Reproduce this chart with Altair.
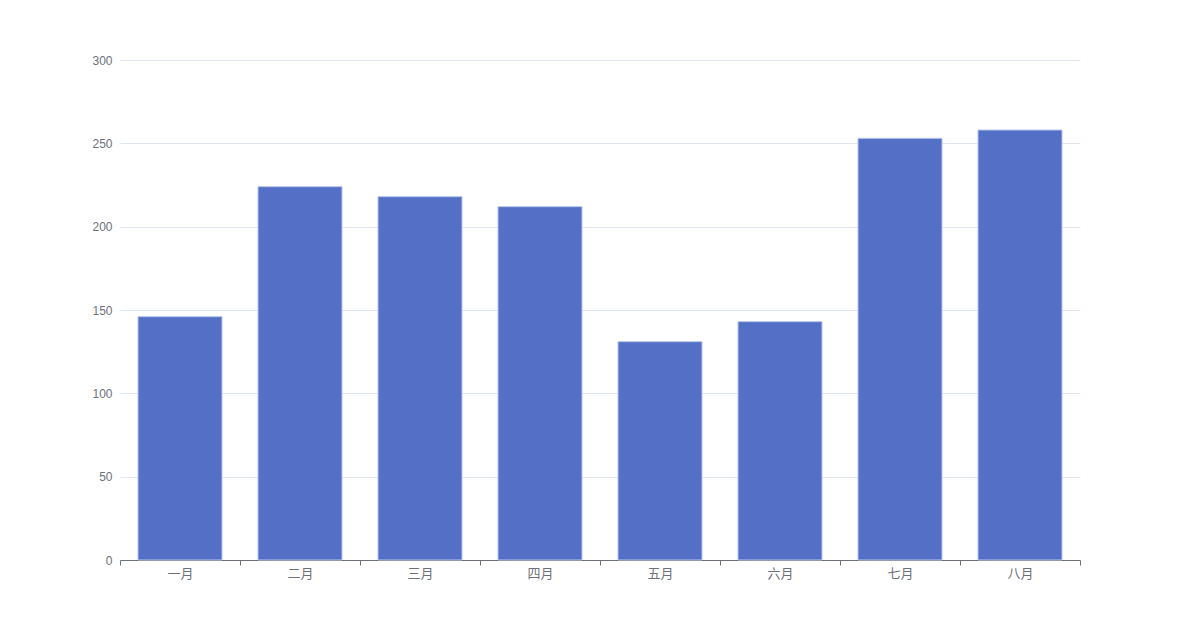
import altair as alt
import pandas as pd

categories = ["一月", "二月", "三月", "四月", "五月", "六月", "七月", "八月"]
values = [146, 224, 218, 212, 131, 143, 253, 258]

df = pd.DataFrame({"cat": categories, "val": values})

chart = alt.Chart(df).mark_bar(
    color="#5470c6", stroke="#b7c4ec", strokeWidth=1,
    width=alt.RelativeBandSize(0.7)
).encode(
    x=alt.X("cat:N", sort=categories, title=None,
            scale=alt.Scale(paddingInner=0, paddingOuter=0),
            axis=alt.Axis(labelAngle=0, labelColor="#6e7079", labelFontSize=13,
                          labelFont="Noto Sans CJK SC", labelPadding=2,
                          domainColor="#6e7079", tickColor="#6e7079", tickSize=5,
                          tickBand="extent", grid=False)),
    y=alt.Y("val:Q", title=None,
            scale=alt.Scale(domain=[0, 300], nice=False),
            axis=alt.Axis(values=[0, 50, 100, 150, 200, 250, 300], domain=False, ticks=False,
                          labelColor="#6e7079", labelFontSize=12, labelPadding=8,
                          gridColor="#e0e6f1", gridWidth=1)),
).properties(
    width=960, height=500,
    autosize=alt.AutoSizeParams(type="none"),
    padding={"left": 112, "top": 52, "right": 100, "bottom": 50},
).configure_view(stroke=None).configure_axis(labelFont="sans-serif")

chart.save("out.html", embed_options={"renderer": "svg", "actions": False})
